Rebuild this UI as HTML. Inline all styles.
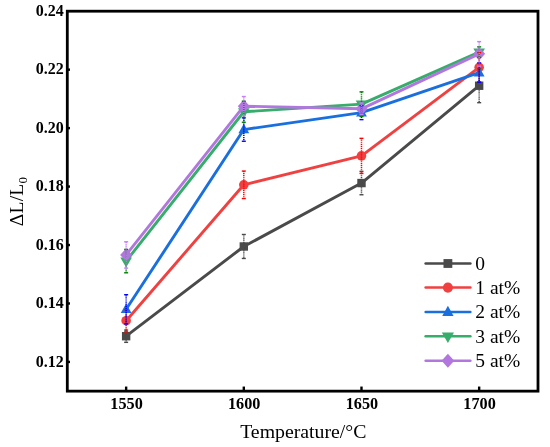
<!DOCTYPE html>
<html><head><meta charset="utf-8"><title>chart</title>
<style>html,body{margin:0;padding:0;background:#fff}svg{display:block}text{font-family:"Liberation Serif","Times New Roman",serif;fill:#000}</style></head><body>
<svg width="550" height="447" viewBox="0 0 550 447">
<rect width="550" height="447" fill="#fff"/>
<polyline points="126.14,336.20 243.81,246.48 361.49,183.05 479.16,85.73" fill="none" stroke="#4a4a4a" stroke-width="2.9" stroke-linejoin="round"/>
<rect x="121.94" y="332.00" width="8.40" height="8.40" fill="#4a4a4a"/>
<rect x="239.61" y="242.28" width="8.40" height="8.40" fill="#4a4a4a"/>
<rect x="357.29" y="178.85" width="8.40" height="8.40" fill="#4a4a4a"/>
<rect x="474.96" y="81.53" width="8.40" height="8.40" fill="#4a4a4a"/>
<polyline points="126.14,320.71 243.81,184.81 361.49,155.87 479.16,67.32" fill="none" stroke="#f14040" stroke-width="2.9" stroke-linejoin="round"/>
<circle cx="126.14" cy="320.71" r="4.80" fill="#f14040"/>
<circle cx="243.81" cy="184.81" r="4.80" fill="#f14040"/>
<circle cx="361.49" cy="155.87" r="4.80" fill="#f14040"/>
<circle cx="479.16" cy="67.32" r="4.80" fill="#f14040"/>
<polyline points="126.14,309.31 243.81,129.57 361.49,112.62 479.16,72.58" fill="none" stroke="#1a6fdf" stroke-width="2.9" stroke-linejoin="round"/>
<polygon points="126.14,303.51 120.74,313.11 131.54,313.11" fill="#1a6fdf"/>
<polygon points="243.81,123.77 238.41,133.37 249.21,133.37" fill="#1a6fdf"/>
<polygon points="361.49,106.82 356.09,116.42 366.89,116.42" fill="#1a6fdf"/>
<polygon points="479.16,66.78 473.76,76.38 484.56,76.38" fill="#1a6fdf"/>
<polyline points="126.14,261.09 243.81,111.74 361.49,104.14 479.16,52.12" fill="none" stroke="#37ad6b" stroke-width="2.9" stroke-linejoin="round"/>
<polygon points="126.14,267.49 120.34,257.49 131.94,257.49" fill="#37ad6b"/>
<polygon points="243.81,118.14 238.01,108.14 249.61,108.14" fill="#37ad6b"/>
<polygon points="361.49,110.54 355.69,100.54 367.29,100.54" fill="#37ad6b"/>
<polygon points="479.16,58.52 473.36,48.52 484.96,48.52" fill="#37ad6b"/>
<polyline points="126.14,254.95 243.81,106.19 361.49,108.82 479.16,53.87" fill="none" stroke="#b177de" stroke-width="2.9" stroke-linejoin="round"/>
<polygon points="126.14,248.35 132.14,254.95 126.14,261.55 120.14,254.95" fill="#b177de"/>
<polygon points="243.81,99.59 249.81,106.19 243.81,112.79 237.81,106.19" fill="#b177de"/>
<polygon points="361.49,102.22 367.49,108.82 361.49,115.42 355.49,108.82" fill="#b177de"/>
<polygon points="479.16,47.27 485.16,53.87 479.16,60.47 473.16,53.87" fill="#b177de"/>
<line x1="126.14" y1="330.07" x2="126.14" y2="342.34" stroke="#4a4a4a" stroke-width="1.5" stroke-dasharray="1.1 0.8"/>
<line x1="124.14" y1="330.07" x2="128.14" y2="330.07" stroke="#4a4a4a" stroke-width="1.4"/>
<line x1="124.14" y1="342.34" x2="128.14" y2="342.34" stroke="#4a4a4a" stroke-width="1.4"/>
<line x1="243.81" y1="234.49" x2="243.81" y2="258.46" stroke="#4a4a4a" stroke-width="1.5" stroke-dasharray="1.1 0.8"/>
<line x1="241.81" y1="234.49" x2="245.81" y2="234.49" stroke="#4a4a4a" stroke-width="1.4"/>
<line x1="241.81" y1="258.46" x2="245.81" y2="258.46" stroke="#4a4a4a" stroke-width="1.4"/>
<line x1="361.49" y1="171.36" x2="361.49" y2="194.75" stroke="#4a4a4a" stroke-width="1.5" stroke-dasharray="1.1 0.8"/>
<line x1="359.49" y1="171.36" x2="363.49" y2="171.36" stroke="#4a4a4a" stroke-width="1.4"/>
<line x1="359.49" y1="194.75" x2="363.49" y2="194.75" stroke="#4a4a4a" stroke-width="1.4"/>
<line x1="479.16" y1="68.78" x2="479.16" y2="102.68" stroke="#4a4a4a" stroke-width="1.5" stroke-dasharray="1.1 0.8"/>
<line x1="477.16" y1="68.78" x2="481.16" y2="68.78" stroke="#4a4a4a" stroke-width="1.4"/>
<line x1="477.16" y1="102.68" x2="481.16" y2="102.68" stroke="#4a4a4a" stroke-width="1.4"/>
<line x1="126.14" y1="309.61" x2="126.14" y2="331.82" stroke="#ff0000" stroke-width="1.5" stroke-dasharray="1.1 0.8"/>
<line x1="124.14" y1="309.61" x2="128.14" y2="309.61" stroke="#ff0000" stroke-width="1.4"/>
<line x1="124.14" y1="331.82" x2="128.14" y2="331.82" stroke="#ff0000" stroke-width="1.4"/>
<line x1="243.81" y1="171.07" x2="243.81" y2="198.54" stroke="#ff0000" stroke-width="1.5" stroke-dasharray="1.1 0.8"/>
<line x1="241.81" y1="171.07" x2="245.81" y2="171.07" stroke="#ff0000" stroke-width="1.4"/>
<line x1="241.81" y1="198.54" x2="245.81" y2="198.54" stroke="#ff0000" stroke-width="1.4"/>
<line x1="361.49" y1="138.34" x2="361.49" y2="173.41" stroke="#ff0000" stroke-width="1.5" stroke-dasharray="1.1 0.8"/>
<line x1="359.49" y1="138.34" x2="363.49" y2="138.34" stroke="#ff0000" stroke-width="1.4"/>
<line x1="359.49" y1="173.41" x2="363.49" y2="173.41" stroke="#ff0000" stroke-width="1.4"/>
<line x1="479.16" y1="52.70" x2="479.16" y2="81.93" stroke="#ff0000" stroke-width="1.5" stroke-dasharray="1.1 0.8"/>
<line x1="477.16" y1="52.70" x2="481.16" y2="52.70" stroke="#ff0000" stroke-width="1.4"/>
<line x1="477.16" y1="81.93" x2="481.16" y2="81.93" stroke="#ff0000" stroke-width="1.4"/>
<line x1="126.14" y1="294.70" x2="126.14" y2="323.93" stroke="#0000ff" stroke-width="1.5" stroke-dasharray="1.1 0.8"/>
<line x1="124.14" y1="294.70" x2="128.14" y2="294.70" stroke="#0000ff" stroke-width="1.4"/>
<line x1="124.14" y1="323.93" x2="128.14" y2="323.93" stroke="#0000ff" stroke-width="1.4"/>
<line x1="243.81" y1="117.88" x2="243.81" y2="141.26" stroke="#0000ff" stroke-width="1.5" stroke-dasharray="1.1 0.8"/>
<line x1="241.81" y1="117.88" x2="245.81" y2="117.88" stroke="#0000ff" stroke-width="1.4"/>
<line x1="241.81" y1="141.26" x2="245.81" y2="141.26" stroke="#0000ff" stroke-width="1.4"/>
<line x1="361.49" y1="105.60" x2="361.49" y2="119.63" stroke="#0000ff" stroke-width="1.5" stroke-dasharray="1.1 0.8"/>
<line x1="359.49" y1="105.60" x2="363.49" y2="105.60" stroke="#0000ff" stroke-width="1.4"/>
<line x1="359.49" y1="119.63" x2="363.49" y2="119.63" stroke="#0000ff" stroke-width="1.4"/>
<line x1="479.16" y1="62.93" x2="479.16" y2="82.22" stroke="#0000ff" stroke-width="1.5" stroke-dasharray="1.1 0.8"/>
<line x1="477.16" y1="62.93" x2="481.16" y2="62.93" stroke="#0000ff" stroke-width="1.4"/>
<line x1="477.16" y1="82.22" x2="481.16" y2="82.22" stroke="#0000ff" stroke-width="1.4"/>
<line x1="126.14" y1="249.40" x2="126.14" y2="272.78" stroke="#008000" stroke-width="1.5" stroke-dasharray="1.1 0.8"/>
<line x1="124.14" y1="249.40" x2="128.14" y2="249.40" stroke="#008000" stroke-width="1.4"/>
<line x1="124.14" y1="272.78" x2="128.14" y2="272.78" stroke="#008000" stroke-width="1.4"/>
<line x1="243.81" y1="101.22" x2="243.81" y2="122.26" stroke="#008000" stroke-width="1.5" stroke-dasharray="1.1 0.8"/>
<line x1="241.81" y1="101.22" x2="245.81" y2="101.22" stroke="#008000" stroke-width="1.4"/>
<line x1="241.81" y1="122.26" x2="245.81" y2="122.26" stroke="#008000" stroke-width="1.4"/>
<line x1="361.49" y1="91.87" x2="361.49" y2="116.42" stroke="#008000" stroke-width="1.5" stroke-dasharray="1.1 0.8"/>
<line x1="359.49" y1="91.87" x2="363.49" y2="91.87" stroke="#008000" stroke-width="1.4"/>
<line x1="359.49" y1="116.42" x2="363.49" y2="116.42" stroke="#008000" stroke-width="1.4"/>
<line x1="479.16" y1="46.86" x2="479.16" y2="57.38" stroke="#008000" stroke-width="1.5" stroke-dasharray="1.1 0.8"/>
<line x1="477.16" y1="46.86" x2="481.16" y2="46.86" stroke="#008000" stroke-width="1.4"/>
<line x1="477.16" y1="57.38" x2="481.16" y2="57.38" stroke="#008000" stroke-width="1.4"/>
<line x1="126.14" y1="241.80" x2="126.14" y2="268.10" stroke="#c77dff" stroke-width="1.5" stroke-dasharray="1.1 0.8"/>
<line x1="124.14" y1="241.80" x2="128.14" y2="241.80" stroke="#c77dff" stroke-width="1.4"/>
<line x1="124.14" y1="268.10" x2="128.14" y2="268.10" stroke="#c77dff" stroke-width="1.4"/>
<line x1="243.81" y1="96.54" x2="243.81" y2="115.83" stroke="#c77dff" stroke-width="1.5" stroke-dasharray="1.1 0.8"/>
<line x1="241.81" y1="96.54" x2="245.81" y2="96.54" stroke="#c77dff" stroke-width="1.4"/>
<line x1="241.81" y1="115.83" x2="245.81" y2="115.83" stroke="#c77dff" stroke-width="1.4"/>
<line x1="361.49" y1="102.97" x2="361.49" y2="114.66" stroke="#c77dff" stroke-width="1.5" stroke-dasharray="1.1 0.8"/>
<line x1="359.49" y1="102.97" x2="363.49" y2="102.97" stroke="#c77dff" stroke-width="1.4"/>
<line x1="359.49" y1="114.66" x2="363.49" y2="114.66" stroke="#c77dff" stroke-width="1.4"/>
<line x1="479.16" y1="41.60" x2="479.16" y2="66.15" stroke="#c77dff" stroke-width="1.5" stroke-dasharray="1.1 0.8"/>
<line x1="477.16" y1="41.60" x2="481.16" y2="41.60" stroke="#c77dff" stroke-width="1.4"/>
<line x1="477.16" y1="66.15" x2="481.16" y2="66.15" stroke="#c77dff" stroke-width="1.4"/>
<rect x="67.3" y="11.2" width="470.70" height="379.95" fill="none" stroke="#000" stroke-width="2.8"/>
<line x1="67.3" y1="361.92" x2="70.00" y2="361.92" stroke="#000" stroke-width="2.4"/>
<text x="63.7" y="366.52" font-size="16" font-weight="bold" text-anchor="end">0.12</text>
<line x1="67.3" y1="303.47" x2="70.00" y2="303.47" stroke="#000" stroke-width="2.4"/>
<text x="63.7" y="308.07" font-size="16" font-weight="bold" text-anchor="end">0.14</text>
<line x1="67.3" y1="245.02" x2="70.00" y2="245.02" stroke="#000" stroke-width="2.4"/>
<text x="63.7" y="249.62" font-size="16" font-weight="bold" text-anchor="end">0.16</text>
<line x1="67.3" y1="186.56" x2="70.00" y2="186.56" stroke="#000" stroke-width="2.4"/>
<text x="63.7" y="191.16" font-size="16" font-weight="bold" text-anchor="end">0.18</text>
<line x1="67.3" y1="128.11" x2="70.00" y2="128.11" stroke="#000" stroke-width="2.4"/>
<text x="63.7" y="132.71" font-size="16" font-weight="bold" text-anchor="end">0.20</text>
<line x1="67.3" y1="69.65" x2="70.00" y2="69.65" stroke="#000" stroke-width="2.4"/>
<text x="63.7" y="74.25" font-size="16" font-weight="bold" text-anchor="end">0.22</text>
<text x="63.7" y="15.80" font-size="16" font-weight="bold" text-anchor="end">0.24</text>
<line x1="126.14" y1="391.15" x2="126.14" y2="386.55" stroke="#000" stroke-width="2.4"/>
<text x="126.54" y="408.8" font-size="16.2" font-weight="bold" text-anchor="middle">1550</text>
<line x1="243.81" y1="391.15" x2="243.81" y2="386.55" stroke="#000" stroke-width="2.4"/>
<text x="244.21" y="408.8" font-size="16.2" font-weight="bold" text-anchor="middle">1600</text>
<line x1="361.49" y1="391.15" x2="361.49" y2="386.55" stroke="#000" stroke-width="2.4"/>
<text x="361.89" y="408.8" font-size="16.2" font-weight="bold" text-anchor="middle">1650</text>
<line x1="479.16" y1="391.15" x2="479.16" y2="386.55" stroke="#000" stroke-width="2.4"/>
<text x="479.56" y="408.8" font-size="16.2" font-weight="bold" text-anchor="middle">1700</text>
<text x="303.3" y="438.2" font-size="19.8" text-anchor="middle">Temperature/°C</text>
<text transform="translate(22.7 201.5) rotate(-90)" font-size="19.5" letter-spacing="0.25" text-anchor="middle">ΔL/L<tspan font-size="13" dy="4">0</tspan></text>
<line x1="425.6" y1="263.5" x2="470.4" y2="263.5" stroke="#4a4a4a" stroke-width="2.5" stroke-linecap="round"/>
<rect x="443.49" y="259.09" width="8.82" height="8.82" fill="#4a4a4a"/>
<text x="475.3" y="270.00" font-size="19.5">0</text>
<line x1="425.6" y1="287.6" x2="470.4" y2="287.6" stroke="#f14040" stroke-width="2.5" stroke-linecap="round"/>
<circle cx="447.90" cy="287.60" r="5.04" fill="#f14040"/>
<text x="475.3" y="294.10" font-size="19.5">1 at%</text>
<line x1="425.6" y1="311.9" x2="470.4" y2="311.9" stroke="#1a6fdf" stroke-width="2.5" stroke-linecap="round"/>
<polygon points="447.90,305.81 442.23,315.89 453.57,315.89" fill="#1a6fdf"/>
<text x="475.3" y="318.40" font-size="19.5">2 at%</text>
<line x1="425.6" y1="336.3" x2="470.4" y2="336.3" stroke="#37ad6b" stroke-width="2.5" stroke-linecap="round"/>
<polygon points="447.90,343.02 441.81,332.52 453.99,332.52" fill="#37ad6b"/>
<text x="475.3" y="342.80" font-size="19.5">3 at%</text>
<line x1="425.6" y1="360.7" x2="470.4" y2="360.7" stroke="#b177de" stroke-width="2.5" stroke-linecap="round"/>
<polygon points="447.90,353.77 454.20,360.70 447.90,367.63 441.60,360.70" fill="#b177de"/>
<text x="475.3" y="367.20" font-size="19.5">5 at%</text>
</svg></body></html>
